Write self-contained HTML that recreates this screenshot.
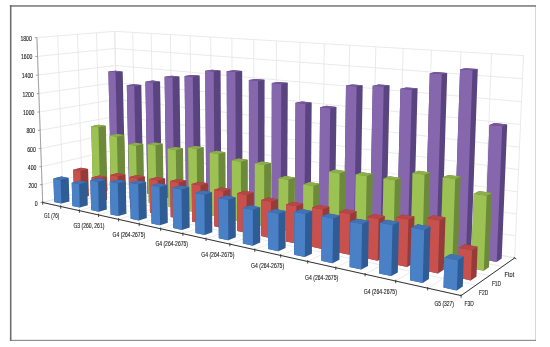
<!DOCTYPE html><html><head><meta charset="utf-8"><style>html,body{margin:0;padding:0;background:#fff}svg{display:block;filter:blur(0.35px)}</style></head><body><svg width="550" height="347" viewBox="0 0 550 347">
<rect width="550" height="347" fill="#fff"/>
<polygon points="118.1,182.3 514.7,257.9 523.5,55.6 114.7,31.3" fill="#fff" />
<line x1="42.7" y1="202.5" x2="118.1" y2="182.3" stroke="#e4e4e4" stroke-width="0.8" />
<line x1="118.1" y1="182.3" x2="514.7" y2="257.9" stroke="#e4e4e4" stroke-width="0.8" />
<line x1="42.1" y1="184.6" x2="117.8" y2="165.9" stroke="#e4e4e4" stroke-width="0.8" />
<line x1="117.8" y1="165.9" x2="515.6" y2="236.1" stroke="#e4e4e4" stroke-width="0.8" />
<line x1="41.5" y1="166.6" x2="117.4" y2="149.4" stroke="#e4e4e4" stroke-width="0.8" />
<line x1="117.4" y1="149.4" x2="516.6" y2="214.1" stroke="#e4e4e4" stroke-width="0.8" />
<line x1="40.8" y1="148.5" x2="117.0" y2="132.8" stroke="#e4e4e4" stroke-width="0.8" />
<line x1="117.0" y1="132.8" x2="517.5" y2="191.9" stroke="#e4e4e4" stroke-width="0.8" />
<line x1="40.2" y1="130.3" x2="116.6" y2="116.2" stroke="#e4e4e4" stroke-width="0.8" />
<line x1="116.6" y1="116.2" x2="518.5" y2="169.6" stroke="#e4e4e4" stroke-width="0.8" />
<line x1="39.5" y1="112.0" x2="116.2" y2="99.4" stroke="#e4e4e4" stroke-width="0.8" />
<line x1="116.2" y1="99.4" x2="519.5" y2="147.2" stroke="#e4e4e4" stroke-width="0.8" />
<line x1="38.9" y1="93.5" x2="115.8" y2="82.5" stroke="#e4e4e4" stroke-width="0.8" />
<line x1="115.8" y1="82.5" x2="520.5" y2="124.5" stroke="#e4e4e4" stroke-width="0.8" />
<line x1="38.2" y1="75.0" x2="115.5" y2="65.5" stroke="#e4e4e4" stroke-width="0.8" />
<line x1="115.5" y1="65.5" x2="521.5" y2="101.7" stroke="#e4e4e4" stroke-width="0.8" />
<line x1="37.5" y1="56.4" x2="115.1" y2="48.5" stroke="#e4e4e4" stroke-width="0.8" />
<line x1="115.1" y1="48.5" x2="522.5" y2="78.7" stroke="#e4e4e4" stroke-width="0.8" />
<line x1="36.9" y1="37.6" x2="114.7" y2="31.3" stroke="#e4e4e4" stroke-width="0.8" />
<line x1="114.7" y1="31.3" x2="523.5" y2="55.6" stroke="#e4e4e4" stroke-width="0.8" />
<line x1="118.1" y1="182.3" x2="114.7" y2="31.3" stroke="#e4e4e4" stroke-width="0.8" />
<line x1="42.7" y1="202.5" x2="118.1" y2="182.3" stroke="#e4e4e4" stroke-width="0.8" />
<line x1="135.7" y1="185.7" x2="132.7" y2="32.4" stroke="#e4e4e4" stroke-width="0.8" />
<line x1="60.7" y1="206.5" x2="135.7" y2="185.7" stroke="#e4e4e4" stroke-width="0.8" />
<line x1="153.9" y1="189.1" x2="151.2" y2="33.5" stroke="#e4e4e4" stroke-width="0.8" />
<line x1="79.4" y1="210.6" x2="153.9" y2="189.1" stroke="#e4e4e4" stroke-width="0.8" />
<line x1="172.6" y1="192.7" x2="170.4" y2="34.6" stroke="#e4e4e4" stroke-width="0.8" />
<line x1="98.6" y1="214.9" x2="172.6" y2="192.7" stroke="#e4e4e4" stroke-width="0.8" />
<line x1="192.0" y1="196.4" x2="190.2" y2="35.8" stroke="#e4e4e4" stroke-width="0.8" />
<line x1="118.6" y1="219.3" x2="192.0" y2="196.4" stroke="#e4e4e4" stroke-width="0.8" />
<line x1="211.9" y1="200.2" x2="210.7" y2="37.0" stroke="#e4e4e4" stroke-width="0.8" />
<line x1="139.2" y1="223.9" x2="211.9" y2="200.2" stroke="#e4e4e4" stroke-width="0.8" />
<line x1="232.5" y1="204.1" x2="231.9" y2="38.3" stroke="#e4e4e4" stroke-width="0.8" />
<line x1="160.7" y1="228.7" x2="232.5" y2="204.1" stroke="#e4e4e4" stroke-width="0.8" />
<line x1="253.9" y1="208.2" x2="253.8" y2="39.6" stroke="#e4e4e4" stroke-width="0.8" />
<line x1="182.9" y1="233.7" x2="253.9" y2="208.2" stroke="#e4e4e4" stroke-width="0.8" />
<line x1="275.9" y1="212.4" x2="276.5" y2="40.9" stroke="#e4e4e4" stroke-width="0.8" />
<line x1="206.0" y1="238.8" x2="275.9" y2="212.4" stroke="#e4e4e4" stroke-width="0.8" />
<line x1="298.7" y1="216.7" x2="300.0" y2="42.3" stroke="#e4e4e4" stroke-width="0.8" />
<line x1="229.9" y1="244.1" x2="298.7" y2="216.7" stroke="#e4e4e4" stroke-width="0.8" />
<line x1="322.4" y1="221.2" x2="324.3" y2="43.8" stroke="#e4e4e4" stroke-width="0.8" />
<line x1="254.8" y1="249.7" x2="322.4" y2="221.2" stroke="#e4e4e4" stroke-width="0.8" />
<line x1="346.8" y1="225.9" x2="349.6" y2="45.3" stroke="#e4e4e4" stroke-width="0.8" />
<line x1="280.7" y1="255.4" x2="346.8" y2="225.9" stroke="#e4e4e4" stroke-width="0.8" />
<line x1="372.2" y1="230.7" x2="375.8" y2="46.8" stroke="#e4e4e4" stroke-width="0.8" />
<line x1="307.7" y1="261.4" x2="372.2" y2="230.7" stroke="#e4e4e4" stroke-width="0.8" />
<line x1="398.6" y1="235.8" x2="403.1" y2="48.4" stroke="#e4e4e4" stroke-width="0.8" />
<line x1="335.8" y1="267.7" x2="398.6" y2="235.8" stroke="#e4e4e4" stroke-width="0.8" />
<line x1="425.9" y1="241.0" x2="431.4" y2="50.1" stroke="#e4e4e4" stroke-width="0.8" />
<line x1="365.1" y1="274.2" x2="425.9" y2="241.0" stroke="#e4e4e4" stroke-width="0.8" />
<line x1="454.4" y1="246.4" x2="460.9" y2="51.8" stroke="#e4e4e4" stroke-width="0.8" />
<line x1="395.7" y1="281.0" x2="454.4" y2="246.4" stroke="#e4e4e4" stroke-width="0.8" />
<line x1="483.9" y1="252.0" x2="491.6" y2="53.7" stroke="#e4e4e4" stroke-width="0.8" />
<line x1="427.7" y1="288.2" x2="483.9" y2="252.0" stroke="#e4e4e4" stroke-width="0.8" />
<line x1="514.7" y1="257.9" x2="523.5" y2="55.6" stroke="#e4e4e4" stroke-width="0.8" />
<line x1="461.1" y1="295.6" x2="514.7" y2="257.9" stroke="#e4e4e4" stroke-width="0.8" />
<line x1="42.7" y1="202.5" x2="36.9" y2="37.6" stroke="#e4e4e4" stroke-width="0.8" />
<line x1="42.7" y1="202.5" x2="461.1" y2="295.6" stroke="#e4e4e4" stroke-width="0.8" />
<line x1="62.9" y1="197.1" x2="57.7" y2="35.9" stroke="#e4e4e4" stroke-width="0.8" />
<line x1="62.9" y1="197.1" x2="475.8" y2="285.3" stroke="#e4e4e4" stroke-width="0.8" />
<line x1="82.1" y1="192.0" x2="77.5" y2="34.3" stroke="#e4e4e4" stroke-width="0.8" />
<line x1="82.1" y1="192.0" x2="489.5" y2="275.6" stroke="#e4e4e4" stroke-width="0.8" />
<line x1="100.5" y1="187.0" x2="96.5" y2="32.8" stroke="#e4e4e4" stroke-width="0.8" />
<line x1="100.5" y1="187.0" x2="502.5" y2="266.5" stroke="#e4e4e4" stroke-width="0.8" />
<line x1="118.1" y1="182.3" x2="114.7" y2="31.3" stroke="#e4e4e4" stroke-width="0.8" />
<line x1="118.1" y1="182.3" x2="514.7" y2="257.9" stroke="#e4e4e4" stroke-width="0.8" />
<line x1="42.7" y1="202.5" x2="36.9" y2="37.6" stroke="#9a9a9a" stroke-width="0.9" />
<line x1="40.5" y1="202.6" x2="43.0" y2="202.5" stroke="#9a9a9a" stroke-width="0.9"/>
<line x1="39.9" y1="184.7" x2="42.4" y2="184.6" stroke="#9a9a9a" stroke-width="0.9"/>
<line x1="39.3" y1="166.7" x2="41.8" y2="166.6" stroke="#9a9a9a" stroke-width="0.9"/>
<line x1="38.6" y1="148.6" x2="41.1" y2="148.5" stroke="#9a9a9a" stroke-width="0.9"/>
<line x1="38.0" y1="130.4" x2="40.5" y2="130.3" stroke="#9a9a9a" stroke-width="0.9"/>
<line x1="37.3" y1="112.1" x2="39.8" y2="112.0" stroke="#9a9a9a" stroke-width="0.9"/>
<line x1="36.7" y1="93.7" x2="39.2" y2="93.5" stroke="#9a9a9a" stroke-width="0.9"/>
<line x1="36.0" y1="75.2" x2="38.5" y2="75.0" stroke="#9a9a9a" stroke-width="0.9"/>
<line x1="35.3" y1="56.5" x2="37.8" y2="56.4" stroke="#9a9a9a" stroke-width="0.9"/>
<line x1="34.7" y1="37.7" x2="37.2" y2="37.6" stroke="#9a9a9a" stroke-width="0.9"/>
<polygon points="111.1,186.6 118.2,188.0 125.2,186.1 122.7,71.4 115.5,70.7 108.4,71.6" fill="#5a4480" />
<polygon points="111.1,186.6 118.2,188.0 115.5,72.3 108.4,71.6" fill="#8667ae" />
<polygon points="108.4,71.6 115.5,72.3 122.7,71.4 115.5,70.7" fill="#74589b" />
<polygon points="129.0,190.1 136.3,191.5 143.2,189.6 141.3,84.9 133.9,84.2 126.8,85.2" fill="#5a4480" />
<polygon points="129.0,190.1 136.3,191.5 134.2,86.0 126.8,85.2" fill="#8667ae" />
<polygon points="126.8,85.2 134.2,86.0 141.3,84.9 133.9,84.2" fill="#74589b" />
<polygon points="147.4,193.7 154.9,195.2 161.8,193.1 160.1,81.4 152.5,80.6 145.4,81.7" fill="#5a4480" />
<polygon points="147.4,193.7 154.9,195.2 153.0,82.4 145.4,81.7" fill="#8667ae" />
<polygon points="145.4,81.7 153.0,82.4 160.1,81.4 152.5,80.6" fill="#74589b" />
<polygon points="166.4,197.4 174.2,199.0 181.0,196.8 179.5,76.4 171.6,75.7 164.6,76.7" fill="#5a4480" />
<polygon points="166.4,197.4 174.2,199.0 172.5,77.5 164.6,76.7" fill="#8667ae" />
<polygon points="164.6,76.7 172.5,77.5 179.5,76.4 171.6,75.7" fill="#74589b" />
<polygon points="186.0,201.3 194.1,202.8 200.9,200.7 199.7,75.6 191.5,74.9 184.6,75.9" fill="#5a4480" />
<polygon points="186.0,201.3 194.1,202.8 192.8,76.7 184.6,75.9" fill="#8667ae" />
<polygon points="184.6,75.9 192.8,76.7 199.7,75.6 191.5,74.9" fill="#74589b" />
<polygon points="206.3,205.2 214.6,206.9 221.3,204.6 220.6,70.5 212.1,69.8 205.2,70.8" fill="#5a4480" />
<polygon points="206.3,205.2 214.6,206.9 213.7,71.5 205.2,70.8" fill="#8667ae" />
<polygon points="205.2,70.8 213.7,71.5 220.6,70.5 212.1,69.8" fill="#74589b" />
<polygon points="227.3,209.3 235.9,211.0 242.5,208.7 242.2,70.9 233.5,70.2 226.7,71.2" fill="#5a4480" />
<polygon points="227.3,209.3 235.9,211.0 235.4,72.0 226.7,71.2" fill="#8667ae" />
<polygon points="226.7,71.2 235.4,72.0 242.2,70.9 233.5,70.2" fill="#74589b" />
<polygon points="249.0,213.6 257.9,215.3 264.4,212.9 264.6,79.8 255.6,79.0 248.9,80.1" fill="#5a4480" />
<polygon points="249.0,213.6 257.9,215.3 258.0,81.0 248.9,80.1" fill="#8667ae" />
<polygon points="248.9,80.1 258.0,81.0 264.6,79.8 255.6,79.0" fill="#74589b" />
<polygon points="271.5,218.0 280.7,219.8 287.1,217.3 287.8,82.8 278.4,81.9 271.8,83.1" fill="#5a4480" />
<polygon points="271.5,218.0 280.7,219.8 281.3,84.0 271.8,83.1" fill="#8667ae" />
<polygon points="271.8,83.1 281.3,84.0 287.8,82.8 278.4,81.9" fill="#74589b" />
<polygon points="294.7,222.5 304.3,224.4 310.6,221.8 311.7,102.4 302.0,101.4 295.5,102.8" fill="#5a4480" />
<polygon points="294.7,222.5 304.3,224.4 305.3,103.8 295.5,102.8" fill="#8667ae" />
<polygon points="295.5,102.8 305.3,103.8 311.7,102.4 302.0,101.4" fill="#74589b" />
<polygon points="318.9,227.2 328.8,229.2 334.9,226.5 336.5,106.9 326.4,105.8 320.1,107.3" fill="#5a4480" />
<polygon points="318.9,227.2 328.8,229.2 330.2,108.4 320.1,107.3" fill="#8667ae" />
<polygon points="320.1,107.3 330.2,108.4 336.5,106.9 326.4,105.8" fill="#74589b" />
<polygon points="343.9,232.1 354.1,234.1 360.1,231.3 362.7,85.3 352.2,84.4 346.0,85.6" fill="#5a4480" />
<polygon points="343.9,232.1 354.1,234.1 356.6,86.6 346.0,85.6" fill="#8667ae" />
<polygon points="346.0,85.6 356.6,86.6 362.7,85.3 352.2,84.4" fill="#74589b" />
<polygon points="369.8,237.2 380.5,239.3 386.3,236.4 389.6,85.3 378.7,84.4 372.7,85.7" fill="#5a4480" />
<polygon points="369.8,237.2 380.5,239.3 383.7,86.6 372.7,85.7" fill="#8667ae" />
<polygon points="372.7,85.7 383.7,86.6 389.6,85.3 378.7,84.4" fill="#74589b" />
<polygon points="396.8,242.5 407.8,244.6 413.5,241.6 417.6,88.3 406.2,87.4 400.4,88.7" fill="#5a4480" />
<polygon points="396.8,242.5 407.8,244.6 411.8,89.7 400.4,88.7" fill="#8667ae" />
<polygon points="400.4,88.7 411.8,89.7 417.6,88.3 406.2,87.4" fill="#74589b" />
<polygon points="424.8,247.9 436.3,250.2 441.7,247.0 447.2,73.0 435.4,72.1 429.8,73.3" fill="#5a4480" />
<polygon points="424.8,247.9 436.3,250.2 441.7,74.2 429.8,73.3" fill="#8667ae" />
<polygon points="429.8,73.3 441.7,74.2 447.2,73.0 435.4,72.1" fill="#74589b" />
<polygon points="453.9,253.6 465.9,256.0 471.1,252.7 477.8,69.0 465.5,68.2 460.1,69.3" fill="#5a4480" />
<polygon points="453.9,253.6 465.9,256.0 472.5,70.2 460.1,69.3" fill="#8667ae" />
<polygon points="460.1,69.3 472.5,70.2 477.8,69.0 465.5,68.2" fill="#74589b" />
<polygon points="484.2,259.5 496.7,262.0 501.7,258.6 507.2,124.4 494.5,123.1 489.4,125.0" fill="#5a4480" />
<polygon points="484.2,259.5 496.7,262.0 502.2,126.3 489.4,125.0" fill="#8667ae" />
<polygon points="489.4,125.0 502.2,126.3 507.2,124.4 494.5,123.1" fill="#74589b" />
<polygon points="93.0,191.5 100.1,193.0 107.5,191.0 105.8,125.8 98.7,124.7 91.2,126.2" fill="#6d8a3b" />
<polygon points="93.0,191.5 100.1,193.0 98.4,127.2 91.2,126.2" fill="#9cc254" />
<polygon points="91.2,126.2 98.4,127.2 105.8,125.8 98.7,124.7" fill="#8cae4b" />
<polygon points="111.0,195.2 118.3,196.7 125.6,194.6 124.3,135.1 116.9,134.0 109.5,135.6" fill="#6d8a3b" />
<polygon points="111.0,195.2 118.3,196.7 116.9,136.7 109.5,135.6" fill="#9cc254" />
<polygon points="109.5,135.6 116.9,136.7 124.3,135.1 116.9,134.0" fill="#8cae4b" />
<polygon points="129.5,198.9 137.1,200.5 144.3,198.3 143.3,144.0 135.7,142.8 128.4,144.5" fill="#6d8a3b" />
<polygon points="129.5,198.9 137.1,200.5 136.0,145.7 128.4,144.5" fill="#9cc254" />
<polygon points="128.4,144.5 136.0,145.7 143.3,144.0 135.7,142.8" fill="#8cae4b" />
<polygon points="148.7,202.8 156.5,204.4 163.7,202.2 162.8,143.7 154.9,142.5 147.6,144.2" fill="#6d8a3b" />
<polygon points="148.7,202.8 156.5,204.4 155.5,145.4 147.6,144.2" fill="#9cc254" />
<polygon points="147.6,144.2 155.5,145.4 162.8,143.7 154.9,142.5" fill="#8cae4b" />
<polygon points="168.5,206.8 176.6,208.5 183.7,206.2 183.0,148.2 174.8,147.0 167.6,148.7" fill="#6d8a3b" />
<polygon points="168.5,206.8 176.6,208.5 175.8,150.0 167.6,148.7" fill="#9cc254" />
<polygon points="167.6,148.7 175.8,150.0 183.0,148.2 174.8,147.0" fill="#8cae4b" />
<polygon points="188.9,211.0 197.3,212.7 204.4,210.3 203.8,147.2 195.4,145.9 188.2,147.6" fill="#6d8a3b" />
<polygon points="188.9,211.0 197.3,212.7 196.7,148.9 188.2,147.6" fill="#9cc254" />
<polygon points="188.2,147.6 196.7,148.9 203.8,147.2 195.4,145.9" fill="#8cae4b" />
<polygon points="210.1,215.3 218.8,217.1 225.8,214.6 225.4,152.2 216.7,150.8 209.7,152.7" fill="#6d8a3b" />
<polygon points="210.1,215.3 218.8,217.1 218.4,154.0 209.7,152.7" fill="#9cc254" />
<polygon points="209.7,152.7 218.4,154.0 225.4,152.2 216.7,150.8" fill="#8cae4b" />
<polygon points="232.1,219.8 241.1,221.6 247.9,219.0 247.8,159.8 238.8,158.4 231.8,160.3" fill="#6d8a3b" />
<polygon points="232.1,219.8 241.1,221.6 240.9,161.7 231.8,160.3" fill="#9cc254" />
<polygon points="231.8,160.3 240.9,161.7 247.8,159.8 238.8,158.4" fill="#8cae4b" />
<polygon points="254.8,224.4 264.1,226.3 270.9,223.6 271.0,163.0 261.6,161.6 254.8,163.6" fill="#6d8a3b" />
<polygon points="254.8,224.4 264.1,226.3 264.2,165.0 254.8,163.6" fill="#9cc254" />
<polygon points="254.8,163.6 264.2,165.0 271.0,163.0 261.6,161.6" fill="#8cae4b" />
<polygon points="278.4,229.1 288.0,231.1 294.6,228.4 295.0,177.6 285.3,176.0 278.6,178.2" fill="#6d8a3b" />
<polygon points="278.4,229.1 288.0,231.1 288.3,179.8 278.6,178.2" fill="#9cc254" />
<polygon points="278.6,178.2 288.3,179.8 295.0,177.6 285.3,176.0" fill="#8cae4b" />
<polygon points="302.8,234.1 312.8,236.1 319.3,233.3 319.8,183.7 309.8,182.1 303.2,184.4" fill="#6d8a3b" />
<polygon points="302.8,234.1 312.8,236.1 313.3,186.1 303.2,184.4" fill="#9cc254" />
<polygon points="303.2,184.4 313.3,186.1 319.8,183.7 309.8,182.1" fill="#8cae4b" />
<polygon points="328.2,239.3 338.6,241.4 344.9,238.4 345.9,171.2 335.4,169.6 329.0,171.8" fill="#6d8a3b" />
<polygon points="328.2,239.3 338.6,241.4 339.6,173.4 329.0,171.8" fill="#9cc254" />
<polygon points="329.0,171.8 339.6,173.4 345.9,171.2 335.4,169.6" fill="#8cae4b" />
<polygon points="354.5,244.6 365.4,246.8 371.5,243.7 372.9,173.8 362.0,172.2 355.7,174.5" fill="#6d8a3b" />
<polygon points="354.5,244.6 365.4,246.8 366.7,176.1 355.7,174.5" fill="#9cc254" />
<polygon points="355.7,174.5 366.7,176.1 372.9,173.8 362.0,172.2" fill="#8cae4b" />
<polygon points="381.9,250.2 393.2,252.4 399.2,249.3 400.9,177.9 389.5,176.2 383.5,178.6" fill="#6d8a3b" />
<polygon points="381.9,250.2 393.2,252.4 394.9,180.3 383.5,178.6" fill="#9cc254" />
<polygon points="383.5,178.6 394.9,180.3 400.9,177.9 389.5,176.2" fill="#8cae4b" />
<polygon points="410.4,255.9 422.2,258.3 427.9,255.0 430.3,172.4 418.5,170.7 412.6,173.1" fill="#6d8a3b" />
<polygon points="410.4,255.9 422.2,258.3 424.5,174.8 412.6,173.1" fill="#9cc254" />
<polygon points="412.6,173.1 424.5,174.8 430.3,172.4 418.5,170.7" fill="#8cae4b" />
<polygon points="440.1,262.0 452.3,264.4 457.8,261.0 460.7,176.6 448.4,174.9 442.8,177.3" fill="#6d8a3b" />
<polygon points="440.1,262.0 452.3,264.4 455.2,179.1 442.8,177.3" fill="#9cc254" />
<polygon points="442.8,177.3 455.2,179.1 460.7,176.6 448.4,174.9" fill="#8cae4b" />
<polygon points="471.0,268.2 483.8,270.8 489.0,267.2 492.0,193.0 479.2,191.1 473.8,193.8" fill="#6d8a3b" />
<polygon points="471.0,268.2 483.8,270.8 486.7,195.8 473.8,193.8" fill="#9cc254" />
<polygon points="473.8,193.8 486.7,195.8 492.0,193.0 479.2,191.1" fill="#8cae4b" />
<polygon points="74.0,196.6 81.2,198.2 88.9,196.1 88.1,169.1 81.0,167.8 73.2,169.7" fill="#953b39" />
<polygon points="74.0,196.6 81.2,198.2 80.4,171.0 73.2,169.7" fill="#c8504d" />
<polygon points="73.2,169.7 80.4,171.0 88.1,169.1 81.0,167.8" fill="#b54846" />
<polygon points="92.1,200.5 99.5,202.0 107.1,199.8 106.6,177.0 99.2,175.6 91.5,177.6" fill="#953b39" />
<polygon points="92.1,200.5 99.5,202.0 98.9,179.0 91.5,177.6" fill="#c8504d" />
<polygon points="91.5,177.6 98.9,179.0 106.6,177.0 99.2,175.6" fill="#b54846" />
<polygon points="110.8,204.4 118.4,206.0 126.0,203.8 125.4,174.4 117.7,173.0 110.1,174.9" fill="#953b39" />
<polygon points="110.8,204.4 118.4,206.0 117.7,176.4 110.1,174.9" fill="#c8504d" />
<polygon points="110.1,174.9 117.7,176.4 125.4,174.4 117.7,173.0" fill="#b54846" />
<polygon points="130.1,208.5 138.0,210.1 145.5,207.8 144.9,176.4 137.0,174.9 129.4,176.9" fill="#953b39" />
<polygon points="130.1,208.5 138.0,210.1 137.4,178.4 129.4,176.9" fill="#c8504d" />
<polygon points="129.4,176.9 137.4,178.4 144.9,176.4 137.0,174.9" fill="#b54846" />
<polygon points="150.0,212.7 158.2,214.4 165.7,212.0 165.2,178.4 157.0,177.0 149.4,179.0" fill="#953b39" />
<polygon points="150.0,212.7 158.2,214.4 157.7,180.5 149.4,179.0" fill="#c8504d" />
<polygon points="149.4,179.0 157.7,180.5 165.2,178.4 157.0,177.0" fill="#b54846" />
<polygon points="170.7,217.0 179.2,218.8 186.5,216.3 186.1,180.5 177.6,179.0 170.2,181.1" fill="#953b39" />
<polygon points="170.7,217.0 179.2,218.8 178.7,182.7 170.2,181.1" fill="#c8504d" />
<polygon points="170.2,181.1 178.7,182.7 186.1,180.5 177.6,179.0" fill="#b54846" />
<polygon points="192.1,221.6 200.9,223.4 208.2,220.8 207.9,183.2 199.1,181.7 191.7,183.9" fill="#953b39" />
<polygon points="192.1,221.6 200.9,223.4 200.5,185.4 191.7,183.9" fill="#c8504d" />
<polygon points="191.7,183.9 200.5,185.4 207.9,183.2 199.1,181.7" fill="#b54846" />
<polygon points="214.3,226.2 223.4,228.2 230.6,225.5 230.4,189.1 221.3,187.4 214.0,189.7" fill="#953b39" />
<polygon points="214.3,226.2 223.4,228.2 223.2,191.4 214.0,189.7" fill="#c8504d" />
<polygon points="214.0,189.7 223.2,191.4 230.4,189.1 221.3,187.4" fill="#b54846" />
<polygon points="237.3,231.1 246.7,233.1 253.8,230.3 253.8,192.5 244.3,190.8 237.1,193.2" fill="#953b39" />
<polygon points="237.3,231.1 246.7,233.1 246.6,194.9 237.1,193.2" fill="#c8504d" />
<polygon points="237.1,193.2 246.6,194.9 253.8,192.5 244.3,190.8" fill="#b54846" />
<polygon points="261.1,236.1 270.9,238.2 277.9,235.3 278.0,199.3 268.2,197.5 261.2,200.0" fill="#953b39" />
<polygon points="261.1,236.1 270.9,238.2 271.0,201.8 261.2,200.0" fill="#c8504d" />
<polygon points="261.2,200.0 271.0,201.8 278.0,199.3 268.2,197.5" fill="#b54846" />
<polygon points="285.9,241.4 296.1,243.5 302.9,240.5 303.2,203.7 293.0,201.8 286.1,204.4" fill="#953b39" />
<polygon points="285.9,241.4 296.1,243.5 296.3,206.3 286.1,204.4" fill="#c8504d" />
<polygon points="286.1,204.4 296.3,206.3 303.2,203.7 293.0,201.8" fill="#b54846" />
<polygon points="311.6,246.8 322.2,249.0 328.9,245.9 329.4,206.8 318.8,205.0 312.0,207.6" fill="#953b39" />
<polygon points="311.6,246.8 322.2,249.0 322.7,209.5 312.0,207.6" fill="#c8504d" />
<polygon points="312.0,207.6 322.7,209.5 329.4,206.8 318.8,205.0" fill="#b54846" />
<polygon points="338.4,252.4 349.4,254.8 355.9,251.5 356.6,211.3 345.6,209.3 339.0,212.0" fill="#953b39" />
<polygon points="338.4,252.4 349.4,254.8 350.0,214.0 339.0,212.0" fill="#c8504d" />
<polygon points="339.0,212.0 350.0,214.0 356.6,211.3 345.6,209.3" fill="#b54846" />
<polygon points="366.3,258.3 377.7,260.7 384.0,257.4 384.9,216.1 373.4,214.0 367.0,216.9" fill="#953b39" />
<polygon points="366.3,258.3 377.7,260.7 378.6,219.0 367.0,216.9" fill="#c8504d" />
<polygon points="367.0,216.9 378.6,219.0 384.9,216.1 373.4,214.0" fill="#b54846" />
<polygon points="395.3,264.4 407.2,267.0 413.3,263.4 414.5,216.6 402.6,214.5 396.4,217.4" fill="#953b39" />
<polygon points="395.3,264.4 407.2,267.0 408.4,219.5 396.4,217.4" fill="#c8504d" />
<polygon points="396.4,217.4 408.4,219.5 414.5,216.6 402.6,214.5" fill="#b54846" />
<polygon points="425.5,270.8 438.0,273.4 443.8,269.8 445.5,217.3 433.0,215.2 427.0,218.2" fill="#953b39" />
<polygon points="425.5,270.8 438.0,273.4 439.6,220.4 427.0,218.2" fill="#c8504d" />
<polygon points="427.0,218.2 439.6,220.4 445.5,217.3 433.0,215.2" fill="#b54846" />
<polygon points="457.9,277.6 470.9,280.4 476.5,276.6 477.6,246.7 464.6,244.3 458.9,247.7" fill="#953b39" />
<polygon points="457.9,277.6 470.9,280.4 472.0,250.2 458.9,247.7" fill="#c8504d" />
<polygon points="458.9,247.7 472.0,250.2 477.6,246.7 464.6,244.3" fill="#b54846" />
<polygon points="54.2,202.0 61.4,203.6 69.4,201.4 68.7,177.9 61.5,176.5 53.4,178.5" fill="#305c96" />
<polygon points="54.2,202.0 61.4,203.6 60.6,179.9 53.4,178.5" fill="#4980c6" />
<polygon points="53.4,178.5 60.6,179.9 68.7,177.9 61.5,176.5" fill="#4272b2" />
<polygon points="72.4,206.0 79.8,207.6 87.8,205.3 87.1,182.1 79.7,180.7 71.7,182.7" fill="#305c96" />
<polygon points="72.4,206.0 79.8,207.6 79.1,184.2 71.7,182.7" fill="#4980c6" />
<polygon points="71.7,182.7 79.1,184.2 87.1,182.1 79.7,180.7" fill="#4272b2" />
<polygon points="91.2,210.1 98.8,211.8 106.8,209.5 106.0,179.6 98.3,178.2 90.3,180.2" fill="#305c96" />
<polygon points="91.2,210.1 98.8,211.8 98.1,181.7 90.3,180.2" fill="#4980c6" />
<polygon points="90.3,180.2 98.1,181.7 106.0,179.6 98.3,178.2" fill="#4272b2" />
<polygon points="110.6,214.4 118.5,216.1 126.4,213.7 125.7,181.2 117.7,179.7 109.8,181.8" fill="#305c96" />
<polygon points="110.6,214.4 118.5,216.1 117.8,183.3 109.8,181.8" fill="#4980c6" />
<polygon points="109.8,181.8 117.8,183.3 125.7,181.2 117.7,179.7" fill="#4272b2" />
<polygon points="130.7,218.8 138.9,220.6 146.8,218.1 146.1,182.1 137.8,180.6 129.9,182.7" fill="#305c96" />
<polygon points="130.7,218.8 138.9,220.6 138.2,184.3 129.9,182.7" fill="#4980c6" />
<polygon points="129.9,182.7 138.2,184.3 146.1,182.1 137.8,180.6" fill="#4272b2" />
<polygon points="151.5,223.4 160.1,225.3 167.8,222.7 167.3,184.9 158.7,183.3 150.9,185.5" fill="#305c96" />
<polygon points="151.5,223.4 160.1,225.3 159.5,187.1 150.9,185.5" fill="#4980c6" />
<polygon points="150.9,185.5 159.5,187.1 167.3,184.9 158.7,183.3" fill="#4272b2" />
<polygon points="173.1,228.1 182.0,230.1 189.7,227.4 189.2,187.1 180.3,185.5 172.6,187.8" fill="#305c96" />
<polygon points="173.1,228.1 182.0,230.1 181.5,189.4 172.6,187.8" fill="#4980c6" />
<polygon points="172.6,187.8 181.5,189.4 189.2,187.1 180.3,185.5" fill="#4272b2" />
<polygon points="195.5,233.1 204.7,235.1 212.3,232.3 212.0,192.3 202.8,190.6 195.1,192.9" fill="#305c96" />
<polygon points="195.5,233.1 204.7,235.1 204.4,194.7 195.1,192.9" fill="#4980c6" />
<polygon points="195.1,192.9 204.4,194.7 212.0,192.3 202.8,190.6" fill="#4272b2" />
<polygon points="218.8,238.2 228.3,240.3 235.8,237.3 235.7,197.3 226.1,195.6 218.5,198.0" fill="#305c96" />
<polygon points="218.8,238.2 228.3,240.3 228.1,199.8 218.5,198.0" fill="#4980c6" />
<polygon points="218.5,198.0 228.1,199.8 235.7,197.3 226.1,195.6" fill="#4272b2" />
<polygon points="242.9,243.5 252.9,245.7 260.2,242.6 260.2,207.2 250.3,205.3 242.9,207.9" fill="#305c96" />
<polygon points="242.9,243.5 252.9,245.7 252.8,209.8 242.9,207.9" fill="#4980c6" />
<polygon points="242.9,207.9 252.8,209.8 260.2,207.2 250.3,205.3" fill="#4272b2" />
<polygon points="268.0,249.0 278.4,251.3 285.6,248.1 285.7,211.0 275.4,209.1 268.1,211.8" fill="#305c96" />
<polygon points="268.0,249.0 278.4,251.3 278.5,213.8 268.1,211.8" fill="#4980c6" />
<polygon points="268.1,211.8 278.5,213.8 285.7,211.0 275.4,209.1" fill="#4272b2" />
<polygon points="294.1,254.7 304.9,257.1 311.9,253.8 312.3,211.1 301.6,209.1 294.4,211.8" fill="#305c96" />
<polygon points="294.1,254.7 304.9,257.1 305.2,213.9 294.4,211.8" fill="#4980c6" />
<polygon points="294.4,211.8 305.2,213.9 312.3,211.1 301.6,209.1" fill="#4272b2" />
<polygon points="321.3,260.7 332.5,263.2 339.4,259.7 340.0,215.5 328.8,213.4 321.8,216.3" fill="#305c96" />
<polygon points="321.3,260.7 332.5,263.2 333.1,218.4 321.8,216.3" fill="#4980c6" />
<polygon points="321.8,216.3 333.1,218.4 340.0,215.5 328.8,213.4" fill="#4272b2" />
<polygon points="349.6,266.9 361.3,269.5 368.0,265.9 368.8,220.8 357.2,218.7 350.4,221.7" fill="#305c96" />
<polygon points="349.6,266.9 361.3,269.5 362.1,223.9 350.4,221.7" fill="#4980c6" />
<polygon points="350.4,221.7 362.1,223.9 368.8,220.8 357.2,218.7" fill="#4272b2" />
<polygon points="379.2,273.4 391.3,276.1 397.8,272.4 399.0,221.9 386.8,219.7 380.2,222.8" fill="#305c96" />
<polygon points="379.2,273.4 391.3,276.1 392.5,225.1 380.2,222.8" fill="#4980c6" />
<polygon points="380.2,222.8 392.5,225.1 399.0,221.9 386.8,219.7" fill="#4272b2" />
<polygon points="410.0,280.2 422.7,283.0 428.9,279.1 430.5,226.6 417.7,224.3 411.4,227.6" fill="#305c96" />
<polygon points="410.0,280.2 422.7,283.0 424.2,229.9 411.4,227.6" fill="#4980c6" />
<polygon points="411.4,227.6 424.2,229.9 430.5,226.6 417.7,224.3" fill="#4272b2" />
<polygon points="443.5,287.6 456.8,290.5 462.8,286.4 463.8,256.5 450.5,253.9 444.5,257.5" fill="#305c96" />
<polygon points="443.5,287.6 456.8,290.5 457.9,260.2 444.5,257.5" fill="#4980c6" />
<polygon points="444.5,257.5 457.9,260.2 463.8,256.5 450.5,253.9" fill="#4272b2" />
<line x1="42.7" y1="202.5" x2="461.1" y2="295.6" stroke="#333" stroke-width="1.0" />
<line x1="461.1" y1="295.6" x2="514.7" y2="257.9" stroke="#333" stroke-width="1.0" />
<line x1="42.7" y1="201.3" x2="42.7" y2="204.7" stroke="#333" stroke-width="0.9"/>
<line x1="60.7" y1="205.3" x2="60.7" y2="208.7" stroke="#333" stroke-width="0.9"/>
<line x1="79.4" y1="209.4" x2="79.4" y2="212.8" stroke="#333" stroke-width="0.9"/>
<line x1="98.6" y1="213.7" x2="98.6" y2="217.1" stroke="#333" stroke-width="0.9"/>
<line x1="118.6" y1="218.1" x2="118.6" y2="221.5" stroke="#333" stroke-width="0.9"/>
<line x1="139.2" y1="222.7" x2="139.2" y2="226.1" stroke="#333" stroke-width="0.9"/>
<line x1="160.7" y1="227.5" x2="160.7" y2="230.9" stroke="#333" stroke-width="0.9"/>
<line x1="182.9" y1="232.5" x2="182.9" y2="235.9" stroke="#333" stroke-width="0.9"/>
<line x1="206.0" y1="237.6" x2="206.0" y2="241.0" stroke="#333" stroke-width="0.9"/>
<line x1="229.9" y1="242.9" x2="229.9" y2="246.3" stroke="#333" stroke-width="0.9"/>
<line x1="254.8" y1="248.5" x2="254.8" y2="251.9" stroke="#333" stroke-width="0.9"/>
<line x1="280.7" y1="254.2" x2="280.7" y2="257.6" stroke="#333" stroke-width="0.9"/>
<line x1="307.7" y1="260.2" x2="307.7" y2="263.6" stroke="#333" stroke-width="0.9"/>
<line x1="335.8" y1="266.5" x2="335.8" y2="269.9" stroke="#333" stroke-width="0.9"/>
<line x1="365.1" y1="273.0" x2="365.1" y2="276.4" stroke="#333" stroke-width="0.9"/>
<line x1="395.7" y1="279.8" x2="395.7" y2="283.2" stroke="#333" stroke-width="0.9"/>
<line x1="427.7" y1="287.0" x2="427.7" y2="290.4" stroke="#333" stroke-width="0.9"/>
<line x1="461.1" y1="294.4" x2="461.1" y2="297.8" stroke="#333" stroke-width="0.9"/>
<line x1="513.7" y1="257.4" x2="516.3" y2="258.9" stroke="#333" stroke-width="0.9"/>
<text x="34.8" y="205.5" font-size="6.9" textLength="2.9" font-family="Liberation Sans, sans-serif" fill="#1c1c1c" stroke="#1c1c1c" stroke-width="0.12" lengthAdjust="spacingAndGlyphs">0</text>
<text x="28.5" y="187.6" font-size="6.9" textLength="8.6" font-family="Liberation Sans, sans-serif" fill="#1c1c1c" stroke="#1c1c1c" stroke-width="0.12" lengthAdjust="spacingAndGlyphs">200</text>
<text x="27.8" y="169.6" font-size="6.9" textLength="8.6" font-family="Liberation Sans, sans-serif" fill="#1c1c1c" stroke="#1c1c1c" stroke-width="0.12" lengthAdjust="spacingAndGlyphs">400</text>
<text x="27.2" y="151.5" font-size="6.9" textLength="8.6" font-family="Liberation Sans, sans-serif" fill="#1c1c1c" stroke="#1c1c1c" stroke-width="0.12" lengthAdjust="spacingAndGlyphs">600</text>
<text x="26.5" y="133.3" font-size="6.9" textLength="8.6" font-family="Liberation Sans, sans-serif" fill="#1c1c1c" stroke="#1c1c1c" stroke-width="0.12" lengthAdjust="spacingAndGlyphs">800</text>
<text x="23.0" y="115.0" font-size="6.9" textLength="11.4" font-family="Liberation Sans, sans-serif" fill="#1c1c1c" stroke="#1c1c1c" stroke-width="0.12" lengthAdjust="spacingAndGlyphs">1000</text>
<text x="22.4" y="96.5" font-size="6.9" textLength="11.4" font-family="Liberation Sans, sans-serif" fill="#1c1c1c" stroke="#1c1c1c" stroke-width="0.12" lengthAdjust="spacingAndGlyphs">1200</text>
<text x="21.7" y="78.0" font-size="6.9" textLength="11.4" font-family="Liberation Sans, sans-serif" fill="#1c1c1c" stroke="#1c1c1c" stroke-width="0.12" lengthAdjust="spacingAndGlyphs">1400</text>
<text x="21.0" y="59.4" font-size="6.9" textLength="11.4" font-family="Liberation Sans, sans-serif" fill="#1c1c1c" stroke="#1c1c1c" stroke-width="0.12" lengthAdjust="spacingAndGlyphs">1600</text>
<text x="20.4" y="40.6" font-size="6.9" textLength="11.4" font-family="Liberation Sans, sans-serif" fill="#1c1c1c" stroke="#1c1c1c" stroke-width="0.12" lengthAdjust="spacingAndGlyphs">1800</text>
<text x="44.0" y="218.3" font-size="6.9" textLength="15.3" font-family="Liberation Sans, sans-serif" fill="#1c1c1c" stroke="#1c1c1c" stroke-width="0.12" lengthAdjust="spacingAndGlyphs">G1 (76)</text>
<text x="73.4" y="227.9" font-size="6.9" textLength="31" font-family="Liberation Sans, sans-serif" fill="#1c1c1c" stroke="#1c1c1c" stroke-width="0.12" lengthAdjust="spacingAndGlyphs">G3 (260, 261)</text>
<text x="112.6" y="236.5" font-size="6.9" textLength="32.5" font-family="Liberation Sans, sans-serif" fill="#1c1c1c" stroke="#1c1c1c" stroke-width="0.12" lengthAdjust="spacingAndGlyphs">G4 (264-2675)</text>
<text x="155.4" y="245.8" font-size="6.9" textLength="32.5" font-family="Liberation Sans, sans-serif" fill="#1c1c1c" stroke="#1c1c1c" stroke-width="0.12" lengthAdjust="spacingAndGlyphs">G4 (264-2675)</text>
<text x="201.2" y="256.8" font-size="6.9" textLength="33.2" font-family="Liberation Sans, sans-serif" fill="#1c1c1c" stroke="#1c1c1c" stroke-width="0.12" lengthAdjust="spacingAndGlyphs">G4 (264-2675)</text>
<text x="251.1" y="267.5" font-size="6.9" textLength="33.0" font-family="Liberation Sans, sans-serif" fill="#1c1c1c" stroke="#1c1c1c" stroke-width="0.12" lengthAdjust="spacingAndGlyphs">G4 (264-2675)</text>
<text x="305.0" y="280.0" font-size="6.9" textLength="33.2" font-family="Liberation Sans, sans-serif" fill="#1c1c1c" stroke="#1c1c1c" stroke-width="0.12" lengthAdjust="spacingAndGlyphs">G4 (264-2675)</text>
<text x="363.7" y="293.6" font-size="6.9" textLength="33.2" font-family="Liberation Sans, sans-serif" fill="#1c1c1c" stroke="#1c1c1c" stroke-width="0.12" lengthAdjust="spacingAndGlyphs">G4 (264-2675)</text>
<text x="434.4" y="306.0" font-size="6.9" textLength="19.6" font-family="Liberation Sans, sans-serif" fill="#1c1c1c" stroke="#1c1c1c" stroke-width="0.12" lengthAdjust="spacingAndGlyphs">G5 (327)</text>
<text x="464.6" y="305.9" font-size="6.9" textLength="9.2" font-family="Liberation Sans, sans-serif" fill="#1c1c1c" stroke="#1c1c1c" stroke-width="0.12" lengthAdjust="spacingAndGlyphs">F3D</text>
<text x="479" y="295.4" font-size="6.9" textLength="9.2" font-family="Liberation Sans, sans-serif" fill="#1c1c1c" stroke="#1c1c1c" stroke-width="0.12" lengthAdjust="spacingAndGlyphs">F2D</text>
<text x="491.9" y="285.5" font-size="6.9" textLength="9.2" font-family="Liberation Sans, sans-serif" fill="#1c1c1c" stroke="#1c1c1c" stroke-width="0.12" lengthAdjust="spacingAndGlyphs">F1D</text>
<text x="504.6" y="276.8" font-size="6.9" textLength="9.6" font-family="Liberation Sans, sans-serif" fill="#1c1c1c" stroke="#1c1c1c" stroke-width="0.12" lengthAdjust="spacingAndGlyphs">Ftot</text>
<rect x="535.1" y="5.1" width="0.9" height="335.5" fill="#d4d4d4"/>
<rect x="9.9" y="5.1" width="526.1" height="1.7" fill="#858585"/>
<rect x="9.9" y="339.85" width="526.1" height="0.95" fill="#747474"/>
<rect x="9.9" y="5.1" width="1.6" height="335.6" fill="#6e6e6e"/>
</svg></body></html>
